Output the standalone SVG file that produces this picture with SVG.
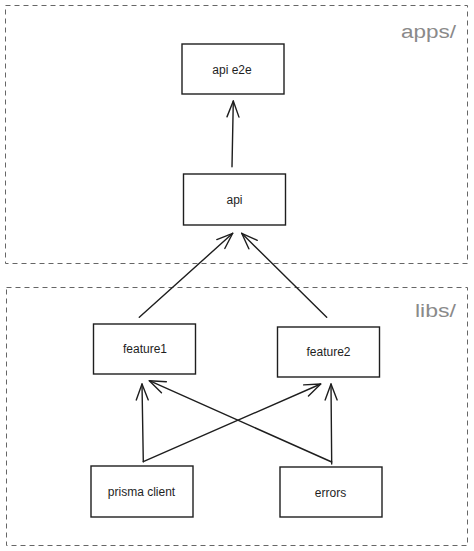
<svg xmlns="http://www.w3.org/2000/svg" width="474" height="551" viewBox="0 0 474 551">
  <style>
    .group { fill: none; stroke: #666; stroke-width: 1; stroke-dasharray: 5 4; }
    .glabel { font-family: "Liberation Sans", Arial, sans-serif; font-size: 18px; fill: #8a8a8a; text-anchor: end; }
    .box { fill: #ffffff; stroke: #1e1e1e; stroke-width: 1.4; }
    .label { font-family: "Liberation Sans", Arial, sans-serif; font-size: 12px; fill: #1e1e1e; text-anchor: middle; }
    .edge { fill: none; stroke: #1e1e1e; stroke-width: 1.4; stroke-linecap: round; marker-end: url(#arrow); }
  </style>
  <defs>
    <marker id="arrow" markerUnits="userSpaceOnUse" markerWidth="20" markerHeight="16" refX="16" refY="6" orient="auto" overflow="visible">
      <path d="M0,0 L16,6 L0,12" fill="none" stroke="#1e1e1e" stroke-width="1.4" stroke-linecap="round" stroke-linejoin="round"/>
    </marker>
  </defs>
  <rect width="474" height="551" fill="#ffffff"/>

  <g id="group-apps">
    <rect class="group" x="5.5" y="5.5" width="462" height="258"/>
    <text class="glabel" x="456" y="38" textLength="55" lengthAdjust="spacingAndGlyphs">apps/</text>
  </g>
  <g id="group-libs">
    <rect class="group" x="6.5" y="287.5" width="461" height="258"/>
    <text class="glabel" x="456" y="317" textLength="41" lengthAdjust="spacingAndGlyphs">libs/</text>
  </g>

  <g id="connectors">
    <line class="edge" x1="232" y1="166.7" x2="233.3" y2="101"/>
    <line class="edge" x1="139.3" y1="317.3" x2="232.7" y2="233.3"/>
    <line class="edge" x1="326.7" y1="317.3" x2="241.7" y2="233.3"/>
    <line class="edge" x1="143.3" y1="461.7" x2="142" y2="384"/>
    <line class="edge" x1="143.3" y1="461.7" x2="320.7" y2="384"/>
    <line class="edge" x1="331.7" y1="464" x2="331" y2="384"/>
    <line class="edge" x1="331.7" y1="462" x2="149.3" y2="380.7"/>
  </g>

  <g id="node-api-e2e">
    <rect class="box" x="182" y="44" width="102" height="50"/>
    <text class="label" x="232" y="73.5">api e2e</text>
  </g>
  <g id="node-api">
    <rect class="box" x="183.5" y="174" width="102" height="51"/>
    <text class="label" x="234.5" y="203.5">api</text>
  </g>
  <g id="node-feature1">
    <rect class="box" x="93.5" y="324" width="102" height="50"/>
    <text class="label" x="145" y="352.5">feature1</text>
  </g>
  <g id="node-feature2">
    <rect class="box" x="277.5" y="327" width="102" height="50"/>
    <text class="label" x="328.5" y="355.5">feature2</text>
  </g>
  <g id="node-prisma-client">
    <rect class="box" x="91" y="466" width="102" height="51"/>
    <text class="label" x="141.5" y="495.5">prisma client</text>
  </g>
  <g id="node-errors">
    <rect class="box" x="280" y="467" width="102" height="50"/>
    <text class="label" x="330.5" y="496.5">errors</text>
  </g>
</svg>
